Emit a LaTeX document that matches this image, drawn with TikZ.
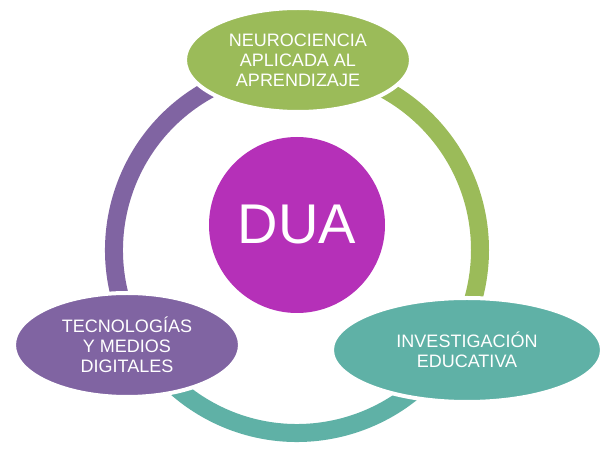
\documentclass[tikz,border=0pt]{standalone}
\usepackage{fontspec}
\setmainfont{Liberation Sans}
\usetikzlibrary{positioning,shapes.geometric}
\definecolor{duagreen}{HTML}{9BBB59}
\definecolor{duateal}{HTML}{5FB1A6}
\definecolor{duapurple}{HTML}{8064A2}
\definecolor{duamagenta}{HTML}{B530B8}

\begin{document}
\begin{tikzpicture}[x=1pt,y=1pt,
    ring/.style={line width=18pt},
    blob/.style={ellipse,draw=white,line width=4pt,text=white,align=center,
                 font=\fontsize{18}{20}\selectfont}]
  \useasboundingbox (0,0) rectangle (603,455);
  % ring segments
  \draw[ring,duagreen]  (297,205) ++(90:183) arc (90:-30:183);
  \draw[ring,duateal]   (297,205) ++(-30:183) arc (-30:-150:183);
  \draw[ring,duapurple] (297,205) ++(210:183) arc (210:90:183);
  % centre
  \node[circle,fill=duamagenta,minimum size=176pt,text=white,
        font=\fontsize{56}{60}\selectfont] (dua) at (297,230) {DUA};
  % outer ellipses
  \node[blob,fill=duagreen,minimum width=226pt,minimum height=104pt] (neuro) at (298,395)
        {NEUROCIENCIA\\APLICADA AL\\APRENDIZAJE};
  \node[blob,fill=duateal,minimum width=270pt,minimum height=104pt] (inv) at (467,105)
        {INVESTIGACIÓN\\EDUCATIVA};
  \node[blob,fill=duapurple,minimum width=226pt,minimum height=104pt] (tec) at (127,110)
        {TECNOLOGÍAS\\Y MEDIOS\\DIGITALES};
\end{tikzpicture}
\end{document}
